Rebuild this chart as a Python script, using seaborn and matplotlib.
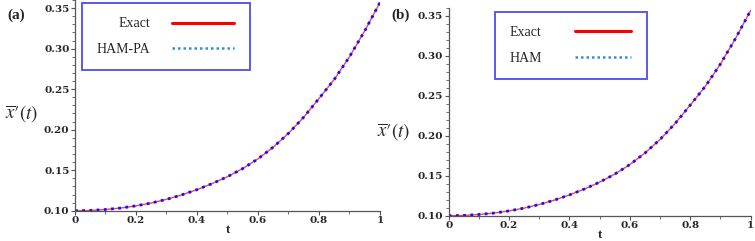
import numpy as np
import pandas as pd
import matplotlib.pyplot as plt
import seaborn as sns
from matplotlib.lines import Line2D
from matplotlib.ticker import MultipleLocator, FixedFormatter, FixedLocator

# values (both panels show the same curve)
t_vals = [0.00, 0.05, 0.10, 0.15, 0.20, 0.25, 0.30, 0.35, 0.40, 0.45, 0.50,
          0.55, 0.60, 0.65, 0.70, 0.75, 0.80, 0.85, 0.90, 0.95, 1.00]
exact_vals = [0.1000, 0.1003, 0.1015, 0.1033, 0.1060, 0.1095, 0.1140, 0.1195,
              0.1260, 0.1335, 0.1420, 0.1520, 0.1640, 0.1785, 0.1955, 0.2155,
              0.2385, 0.2620, 0.2900, 0.3220, 0.3570]
approx_vals = list(exact_vals)

panel_tags = ["(a)", "(b)"]
approx_names = ["HAM-PA", "HAM"]
xtick_vals = [0, 0.2, 0.4, 0.6, 0.8, 1.0]
xtick_labels = ["0", "0.2", "0.4", "0.6", "0.8", "1"]
ytick_vals = [0.10, 0.15, 0.20, 0.25, 0.30, 0.35]

sns.set_style("ticks")
plt.rcParams['font.family'] = ['Liberation Serif', 'DejaVu Serif']
plt.rcParams['mathtext.fontset'] = 'stix'

df = pd.DataFrame({"t": t_vals, "exact": exact_vals, "approx": approx_vals})

fig = plt.figure(figsize=(7.55, 2.41), dpi=100)
axes_pos = [[0.0993, 0.1257, 0.404, 0.874], [0.5943, 0.105, 0.400, 0.862]]
ylab_pos = [(0.029, 0.530), (0.521, 0.456)]
tag_pos = [(0.010, 0.938), (0.519, 0.935)]
leg_box = [(0.023, 0.987, 0.551, 0.0), (0.152, 0.982, 0.503, 0.0)]
leg_pad = [1.6, 2.4]
leg_hlen = [4.4, 4.0]

for i in range(2):
    ax = fig.add_axes(axes_pos[i])
    sns.lineplot(data=df, x="t", y="exact", ax=ax, color="#ff2020", lw=1.0,
                 alpha=0.85, label=None)
    sns.lineplot(data=df, x="t", y="approx", ax=ax, color="#1010ff", lw=2.0,
                 linestyle=(0, (1, 1.6)), label=None)
    ax.set_xlim(0, 1.0)
    ax.set_ylim(0.1, 0.36)
    ax.xaxis.set_major_locator(FixedLocator(xtick_vals))
    ax.xaxis.set_major_formatter(FixedFormatter(xtick_labels))
    ax.xaxis.set_minor_locator(MultipleLocator(0.1))
    ax.yaxis.set_major_locator(FixedLocator(ytick_vals))
    ax.yaxis.set_minor_locator(MultipleLocator(0.01))
    ax.set_yticklabels(["%.2f" % v for v in ytick_vals])
    for lab in ax.get_xticklabels() + ax.get_yticklabels():
        lab.set_fontweight("bold")
        lab.set_family("DejaVu Serif")
    ax.tick_params(axis="both", which="major", length=3, width=0.8,
                   color="#555555", labelsize=7.5, pad=1.0)
    ax.tick_params(axis="both", which="minor", length=2, width=0.6,
                   color="#555555")
    sns.despine(ax=ax)
    for s in ["left", "bottom"]:
        ax.spines[s].set_color("#555555")
        ax.spines[s].set_linewidth(0.9)
    ax.set_ylabel("")
    ax.set_xlabel("t", fontsize=9, fontweight="bold", labelpad=-1)
    fig.text(ylab_pos[i][0], ylab_pos[i][1], r"$\overline{x}\prime(t)$",
             fontsize=13.5, ha="center", va="center")
    fig.text(tag_pos[i][0], tag_pos[i][1], panel_tags[i], fontsize=11,
             fontweight="bold", ha="left", va="center")

    handles = [Line2D([], [], color="#ff0000", lw=2.2),
               Line2D([], [], color="#3090d8", lw=1.8,
                      linestyle=(0, (1, 1.2)))]
    leg = ax.legend(handles, ["Exact", approx_names[i]], loc="upper left",
                    bbox_to_anchor=leg_box[i], mode="expand",
                    markerfirst=False, fontsize=10, handlelength=leg_hlen[i],
                    handletextpad=leg_pad[i],
                    frameon=True, fancybox=False, borderaxespad=0,
                    labelspacing=0.9, borderpad=1.05)
    leg.get_frame().set_edgecolor("#2020ee")
    leg.get_frame().set_linewidth(1.3)

fig.savefig("out.png", dpi=100)
